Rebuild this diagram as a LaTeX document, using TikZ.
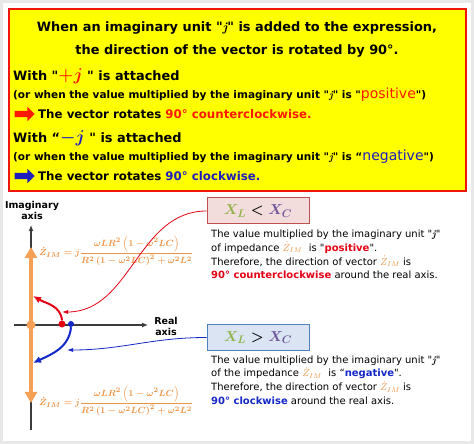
\documentclass[tikz,border=0pt]{standalone}
\usepackage{fontspec}
\newfontfamily\dejavu{DejaVu Sans}
\usepackage{amsmath}
\usepackage{bm}
\usetikzlibrary{arrows.meta,positioning,shapes.arrows}
\definecolor{FrameGray}{RGB}{232,232,232}
\definecolor{PanelRed}{RGB}{240,20,10}
\definecolor{PanelYellow}{RGB}{255,255,0}
\definecolor{HeadRed}{RGB}{255,25,0}
\definecolor{HeadBlue}{RGB}{30,30,190}
\definecolor{TxtRed}{RGB}{230,0,20}
\definecolor{TxtBlue}{RGB}{20,40,200}
\definecolor{VecOrange}{RGB}{245,160,85}
\definecolor{FormOrange}{RGB}{238,148,70}
\definecolor{AxisGray}{RGB}{60,60,60}
\definecolor{LessFill}{RGB}{242,220,220}
\definecolor{LessLine}{RGB}{192,80,77}
\definecolor{MoreFill}{RGB}{218,228,242}
\definecolor{MoreLine}{RGB}{79,129,189}
\definecolor{XlGreen}{RGB}{145,180,75}
\definecolor{XcPurple}{RGB}{110,85,155}
\newcommand{\jit}{{\rmfamily\bfseries\itshape j}}
\newcommand{\Zim}{\textcolor{FormOrange}{$\dot{Z}_{IM}$}}

\begin{document}
\begin{tikzpicture}[x=1pt,y=1pt,
    head/.style={font=\dejavu\bfseries\fontsize{12.9}{12.9}\selectfont, inner sep=0pt},
    rot/.style={font=\dejavu\bfseries\fontsize{11.8}{11.8}\selectfont, inner sep=0pt, anchor=west},
    sub/.style={font=\dejavu\bfseries\fontsize{10.5}{10.5}\selectfont, inner sep=0pt, anchor=west},
    blockarrow/.style={single arrow, draw=none, inner sep=3pt, single arrow head extend=4pt, minimum height=20pt},
    cond/.style={draw, line width=1pt, minimum width=102pt, minimum height=26pt, inner sep=0pt, font=\boldmath\fontsize{15}{15}\selectfont},
    expl/.style={font=\dejavu\fontsize{10}{13.7}\selectfont, align=left, anchor=west, inner sep=0pt},
    axlabel/.style={font=\dejavu\bfseries\fontsize{9.5}{11}\selectfont, align=center, inner sep=0pt},
    formula/.style={text=FormOrange, font=\boldmath\fontsize{9.4}{9.4}\selectfont, anchor=west, inner sep=0pt},
    axis/.style={-{Latex[length=6pt,width=5pt]}, line width=1.2pt, draw=AxisGray},
    vec/.style={-{Triangle[length=11pt,width=12pt]}, line width=3.5pt, draw=VecOrange},
    turn/.style={-{Latex[length=8pt,width=7pt]}, line width=2pt},
    link/.style={-{Latex[length=6pt,width=4pt]}, line width=0.8pt}
  ]
    \useasboundingbox (0,0) rectangle (474,444);
    \fill[FrameGray] (0,0) rectangle (474,444);
    \fill[white] (3,3) rectangle (471,441);

    % upper panel
    \node[draw=PanelRed, fill=PanelYellow, line width=2pt, minimum width=457pt, minimum height=182pt, inner sep=0pt] (panel) at (237.5,344) {};
    \node[head] (title1) at (237,416) {When an imaginary unit "\jit" is added to the expression,};
    \node[head] (title2) at (237,393) {the direction of the vector is rotated by 90°.};
    \node[head, anchor=west] (plus) at (13,368) {With "\textcolor{HeadRed}{\fontsize{17}{17}\selectfont$\bm{+j}$} " is attached};
    \node[sub] (plusnote) at (13,349) {(or when the value multiplied by the imaginary unit "\jit" is "\textcolor{HeadRed}{\fontsize{14}{14}\selectfont\mdseries positive}")};
    \node[blockarrow, fill=HeadRed] (ccwarrow) at (23,330) {};
    \node[rot] (ccw) at (38,330) {The vector rotates \textcolor{HeadRed}{90° counterclockwise.}};
    \node[head, anchor=west] (minus) at (13,306) {With “\textcolor{HeadBlue}{\fontsize{17}{17}\selectfont$\bm{-j}$} " is attached};
    \node[sub] (minusnote) at (13,287) {(or when the value multiplied by the imaginary unit "\jit" is “\textcolor{HeadBlue}{\fontsize{14}{14}\selectfont\mdseries negative}")};
    \node[blockarrow, fill=HeadBlue] (cwarrow) at (23,268) {};
    \node[rot] (cw) at (38,268) {The vector rotates \textcolor{HeadBlue}{90° clockwise.}};

    % complex plane
    \coordinate (O) at (31,119);
    \draw[axis] (31,14) -- (31,219);
    \draw[axis] (14,119) -- (148,119);
    \node[axlabel] (imlabel) at (32,233.5) {Imaginary\\axis};
    \node[axlabel] (relabel) at (166,117.5) {Real\\axis};
    \node[formula] (zup) at (39,193) {$\dot{Z}_{IM}=j\dfrac{\omega LR^2\left(1-\omega^2LC\right)}{R^2\left(1-\omega^2LC\right)^2+\omega^2L^2}$};
    \node[formula] (zdown) at (39,43) {$\dot{Z}_{IM}=j\dfrac{\omega LR^2\left(1-\omega^2LC\right)}{R^2\left(1-\omega^2LC\right)^2+\omega^2L^2}$};
    \draw[vec] (O) -- (31,197);
    \draw[vec] (O) -- (31,41);
    \fill[VecOrange] (O) circle (4.5);
    \node[circle, fill=TxtRed, inner sep=0pt, minimum size=7pt] (rdot) at (62,120) {};
    \node[circle, fill=TxtBlue, inner sep=0pt, minimum size=6pt] (bdot) at (71,120) {};
    \coordinate (rtip) at (33,148);
    \coordinate (btip) at (33,81);
    \draw[turn, draw=TxtRed] (rdot.north) to[out=95,in=-30] (rtip);
    \draw[turn, draw=TxtBlue] (bdot.south) to[out=-95,in=25] (btip);

    % conditions
    \node[cond, fill=LessFill, draw=LessLine] (less) at (258,233) {$\textcolor{XlGreen}{X_L}<\textcolor{XcPurple}{X_C}$};
    \node[expl] (lesstext) at (211,189.5) {The value multiplied by the imaginary unit "\jit"\\of impedance \Zim\ \ is "\textcolor{TxtRed}{\textbf{positive}}".\\Therefore, the direction of vector \Zim\ is\\\textcolor{TxtRed}{\textbf{90° counterclockwise}} around the real axis.};
    \node[cond, fill=MoreFill, draw=MoreLine] (more) at (258,106.5) {$\textcolor{XlGreen}{X_L}>\textcolor{XcPurple}{X_C}$};
    \node[expl] (moretext) at (211,64) {The value multiplied by the imaginary unit "\jit"\\of the impedance \Zim\ \ is “\textcolor{TxtBlue}{\textbf{negative}}".\\Therefore, the direction of vector \Zim\ is\\\textcolor{TxtBlue}{\textbf{90° clockwise}} around the real axis.};
    \coordinate (rctip) at (62,132);
    \coordinate (bctip) at (67,94);
    \draw[link, draw=TxtRed] (less.west) to[out=180,in=0] (rctip);
    \draw[link, draw=TxtBlue] (more.west) to[out=180,in=0] (bctip);
  \end{tikzpicture}
\end{document}
